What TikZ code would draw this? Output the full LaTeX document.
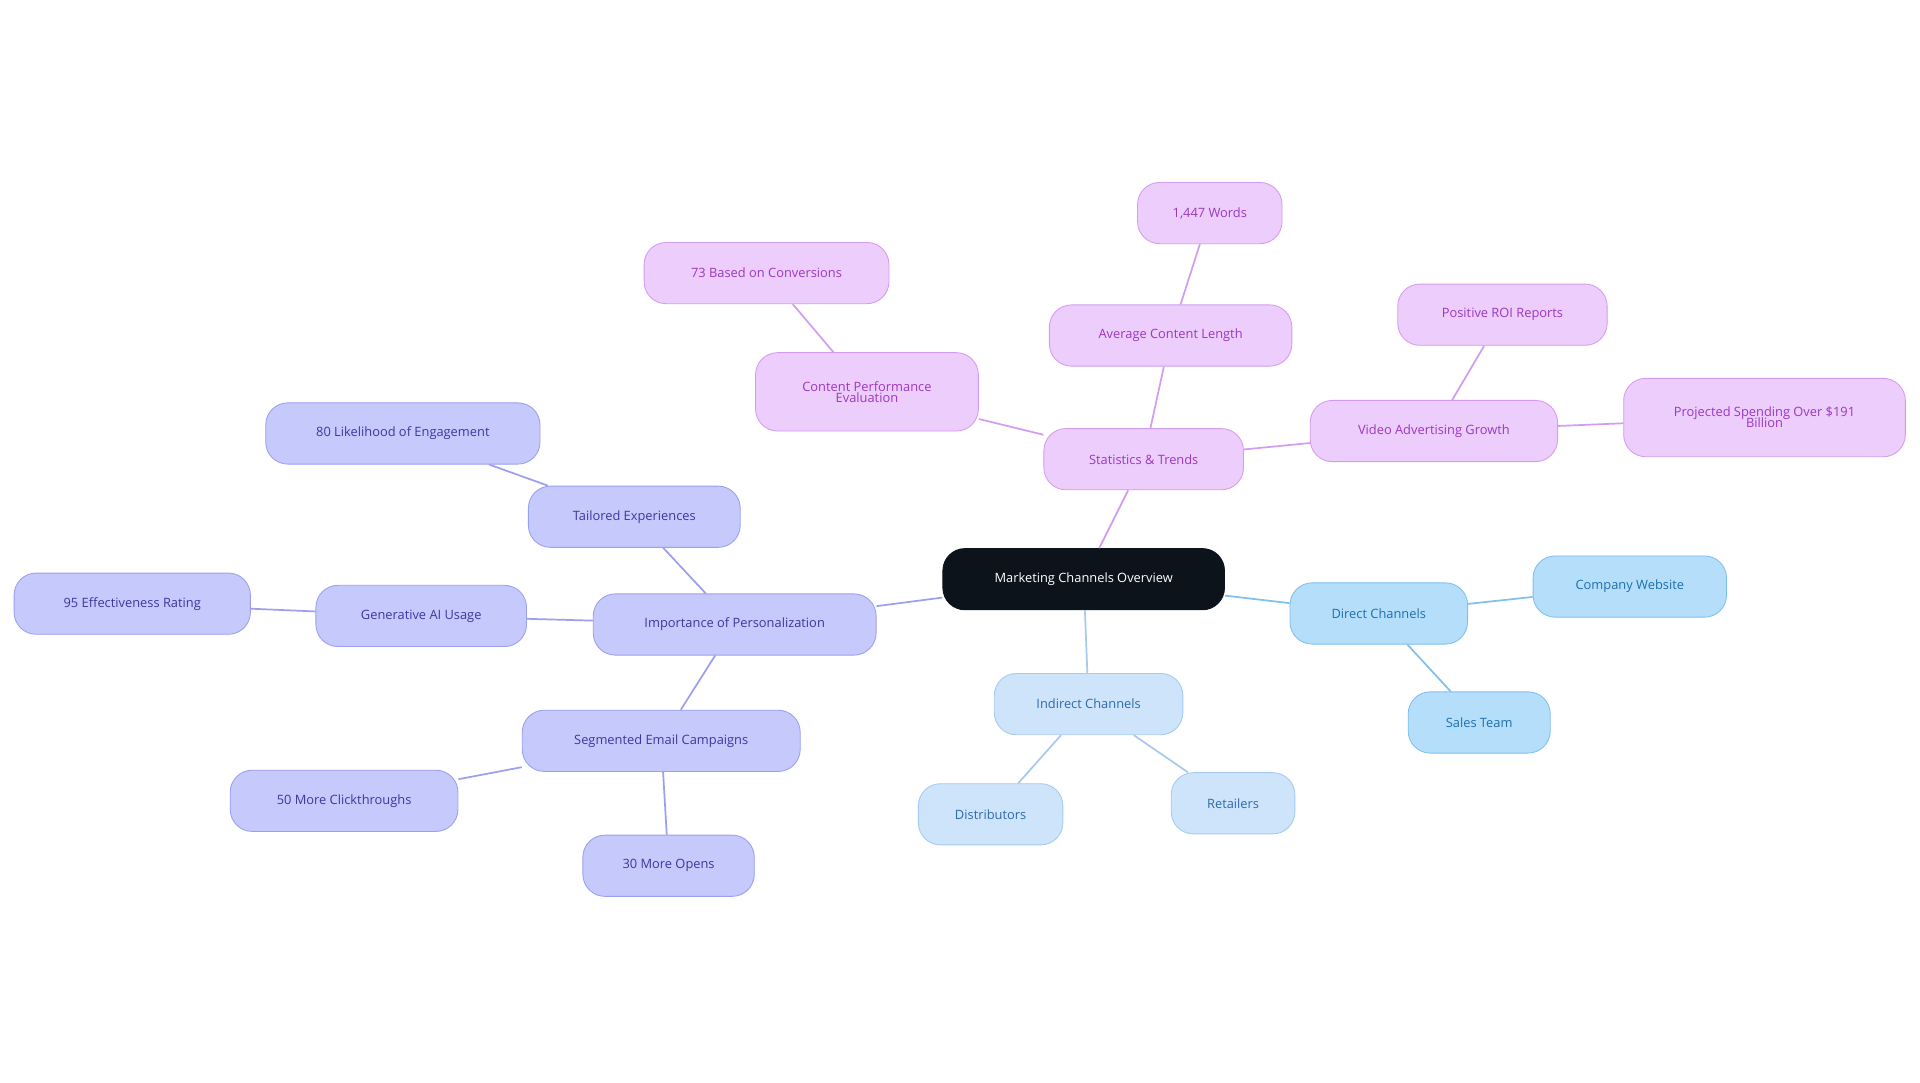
\documentclass[tikz,border=0pt]{standalone}
\usepackage{fontspec}
\setmainfont{Open Sans}
\definecolor{rootf}{HTML}{0D131A}
\definecolor{dirf}{HTML}{B5DEFB}\definecolor{dird}{HTML}{80C0EE}\definecolor{dirt}{HTML}{1E6FAE}
\definecolor{indf}{HTML}{CEE4FA}\definecolor{indd}{HTML}{A6CAEE}\definecolor{indt}{HTML}{2C6BB0}
\definecolor{perf}{HTML}{C6C9FC}\definecolor{perd}{HTML}{9B9FEF}\definecolor{pert}{HTML}{39399F}
\definecolor{staf}{HTML}{EDCDFC}\definecolor{stad}{HTML}{D49CF0}\definecolor{stat}{HTML}{9A38C0}
\tikzset{
 bx/.style={rounded corners=18pt,minimum height=50pt,align=center,font=\fontsize{10.5}{11}\selectfont,line width=0.7pt,inner xsep=4pt},
 root/.style={bx,fill=rootf,draw=rootf,text=white},
 dir/.style={bx,fill=dirf,draw=dird,text=dirt},
 ind/.style={bx,fill=indf,draw=indd,text=indt},
 per/.style={bx,fill=perf,draw=perd,text=pert},
 sta/.style={bx,fill=staf,draw=stad,text=stat},
 ed/.style={line width=1.4pt}
}
\begin{document}
\begin{tikzpicture}[x=1pt,y=-1pt]
\useasboundingbox[fill=white] (0,0) rectangle (1568,884);
\begin{scope}[on background layer/.style={}]
\end{scope}
% nodes
\node[root,minimum width=230pt] (r) at (885,473) {Marketing Channels Overview};
\node[dir,minimum width=145pt] (d) at (1126,501) {Direct Channels};
\node[dir,minimum width=158pt] (cw) at (1331,479) {Company Website};
\node[dir,minimum width=116pt] (st) at (1208,590) {Sales Team};
\node[ind,minimum width=154pt] (i) at (889,575) {Indirect Channels};
\node[ind,minimum width=118pt] (di) at (809,665) {Distributors};
\node[ind,minimum width=101pt] (re) at (1007,656) {Retailers};
\node[per,minimum width=231pt] (p) at (600,510) {Importance of Personalization};
\node[per,minimum width=173pt] (te) at (518,422) {Tailored Experiences};
\node[per,minimum width=224pt] (le) at (329,354) {80 Likelihood of Engagement};
\node[per,minimum width=172pt] (ga) at (344,503) {Generative AI Usage};
\node[per,minimum width=193pt] (er) at (108,493) {95 Effectiveness Rating};
\node[per,minimum width=227pt] (se) at (540,605) {Segmented Email Campaigns};
\node[per,minimum width=186pt] (mc) at (281,654) {50 More Clickthroughs};
\node[per,minimum width=140pt] (mo) at (546,707) {30 More Opens};
\node[sta,minimum width=163pt] (s) at (934,375) {Statistics \& Trends};
\node[sta,minimum width=198pt] (ac) at (956,274) {Average Content Length};
\node[sta,minimum width=118pt] (w) at (988,174) {1,447 Words};
\node[sta,minimum width=182pt,minimum height=64pt] (cp) at (708,320) {Content Performance\\[-2pt]Evaluation};
\node[sta,minimum width=200pt] (bc) at (626,223) {73 Based on Conversions};
\node[sta,minimum width=202pt] (va) at (1171,352) {Video Advertising Growth};
\node[sta,minimum width=171pt] (pr) at (1227,257) {Positive ROI Reports};
\node[sta,minimum width=230pt,minimum height=64pt] (ps) at (1441,341) {Projected Spending Over \$191\\[-2pt]Billion};
% edges
\begin{scope}[ed]
\draw[dird] (r) -- (d); \draw[dird] (d) -- (cw); \draw[dird] (d) -- (st);
\draw[indd] (r) -- (i); \draw[indd] (i) -- (di); \draw[indd] (i) -- (re);
\draw[perd] (r) -- (p); \draw[perd] (p) -- (te); \draw[perd] (te) -- (le);
\draw[perd] (p) -- (ga); \draw[perd] (ga) -- (er);
\draw[perd] (p) -- (se); \draw[perd] (se) -- (mc); \draw[perd] (se) -- (mo);
\draw[stad] (r) -- (s); \draw[stad] (s) -- (ac); \draw[stad] (ac) -- (w);
\draw[stad] (s) -- (cp); \draw[stad] (cp) -- (bc);
\draw[stad] (s) -- (va); \draw[stad] (va) -- (pr); \draw[stad] (va) -- (ps);
\end{scope}
\end{tikzpicture}
\end{document}
